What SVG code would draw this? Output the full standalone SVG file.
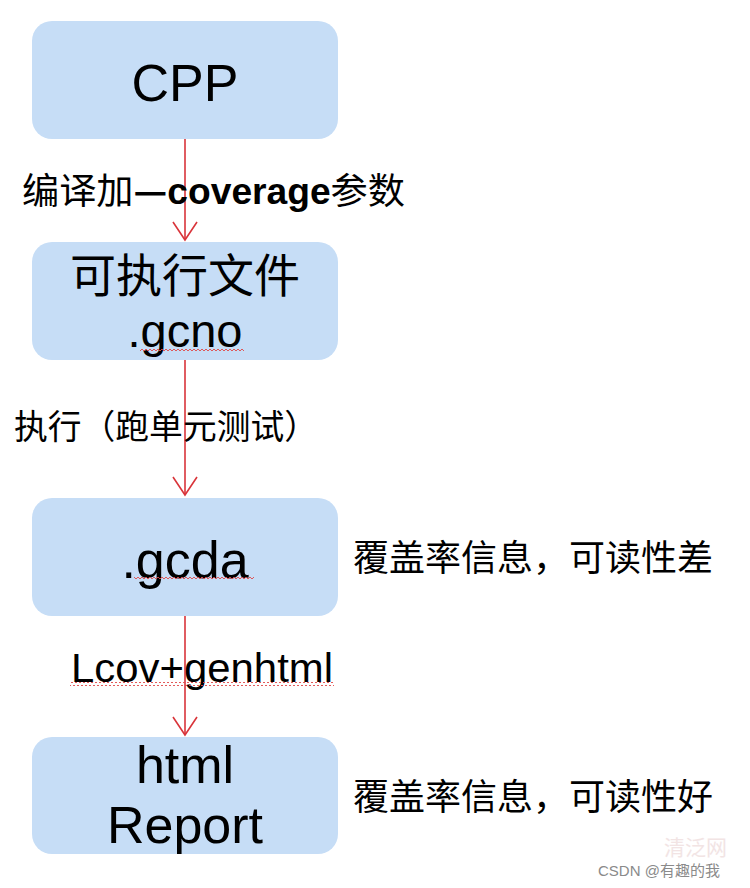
<svg xmlns="http://www.w3.org/2000/svg" width="750" height="888" viewBox="0 0 750 888">
  <defs>
    <style>
      .box { fill: #c6ddf6; }
      .nt { font-family: "Liberation Sans", "Noto Sans CJK SC", sans-serif; fill: #000; text-anchor: middle; }
      .lbl { font-family: "Noto Sans CJK SC", "Liberation Sans", sans-serif; fill: #000; }
      .lat { font-family: "Liberation Sans", "Noto Sans CJK SC", sans-serif; }
      .conn { stroke: #d9343a; stroke-width: 1.6; fill: none; }
      .wm { font-family: "Liberation Sans", "Noto Sans CJK SC", sans-serif; fill: #8a8a8a; }
    </style>
    <marker id="arr" markerUnits="userSpaceOnUse" viewBox="-20 -14 22 28" markerWidth="22" markerHeight="28" refX="0" refY="0" orient="auto" overflow="visible">
      <path d="M-18,-12 L0,0 L-18,12" fill="none" stroke="#d9343a" stroke-width="1.6"/>
    </marker>
    <pattern id="squig" patternUnits="userSpaceOnUse" width="4" height="4">
      <path d="M0,3 L2,1 L4,3" fill="none" stroke="#e04848" stroke-width="0.9"/>
    </pattern>
  </defs>
  <rect width="750" height="888" fill="#ffffff"/>

  <g id="node-cpp">
    <rect class="box" x="32" y="21" width="306" height="118" rx="20"/>
    <text class="nt" x="185" y="101" font-size="52">CPP</text>
  </g>

  <g id="node-exe">
    <rect class="box" x="32" y="242" width="306" height="118" rx="20"/>
    <text class="nt" x="185" y="292" font-size="46">可执行文件</text>
    <text class="nt" x="185" y="347" font-size="47">.gcno</text>
    <rect x="140" y="347" width="104" height="4" fill="url(#squig)"/>
  </g>

  <g id="node-gcda">
    <rect class="box" x="32" y="498" width="306" height="118" rx="20"/>
    <text class="nt" x="185" y="578" font-size="52">.gcda</text>
    <rect x="134" y="577" width="120" height="4" fill="url(#squig)"/>
  </g>

  <g id="node-report">
    <rect class="box" x="32" y="737" width="306" height="117" rx="20"/>
    <text class="nt" x="185" y="783" font-size="52">html</text>
    <text class="nt" x="185" y="843" font-size="52">Report</text>
  </g>

  <g id="connectors">
    <line class="conn" x1="185" y1="139" x2="185" y2="240" marker-end="url(#arr)"/>
    <line class="conn" x1="185" y1="360" x2="185" y2="495" marker-end="url(#arr)"/>
    <line class="conn" x1="185" y1="616" x2="185" y2="735" marker-end="url(#arr)"/>
  </g>

  <g id="labels">
    <text class="lbl" x="22" y="204" font-size="36" textLength="383" lengthAdjust="spacingAndGlyphs">编译加<tspan font-weight="bold">—</tspan><tspan class="lat" font-weight="bold">coverage</tspan>参数</text>
    <text class="lbl" x="14" y="439" font-size="34" textLength="304" lengthAdjust="spacingAndGlyphs">执行（跑单元测试）</text>
    <text class="lat" x="71" y="682" font-size="41" fill="#000" textLength="262" lengthAdjust="spacingAndGlyphs">Lcov+genhtml</text>
    <rect x="70" y="682" width="264" height="4" fill="url(#squig)"/>
    <text class="lbl" x="353" y="571" font-size="36">覆盖率信息，可读性差</text>
    <text class="lbl" x="353" y="810" font-size="36">覆盖率信息，可读性好</text>
  </g>

  <g id="watermark">
    <text x="664" y="855" font-family="Noto Sans CJK SC, sans-serif" font-size="21" fill="#f0dede" opacity="0.8">清泛网</text>
    <text class="wm" x="598" y="876" font-size="15">CSDN @有趣的我</text>
  </g>
</svg>
